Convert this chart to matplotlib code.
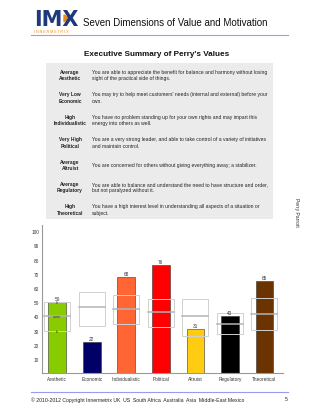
import matplotlib
matplotlib.use("Agg")
import matplotlib.pyplot as plt
from matplotlib.patches import Rectangle, Polygon
from matplotlib.lines import Line2D
import numpy as np

plt.rcParams['font.family'] = ['Liberation Sans', 'DejaVu Sans']

# chart data
categories = ["Aesthetic", "Economic", "Individualistic", "Political",
              "Altruist", "Regulatory", "Theoretical"]
scores = [50, 22, 68, 76, 31, 40, 65]
bar_colors = ["#88cc00", "#000066", "#ff6633", "#ff0000",
              "#ffcc11", "#000000", "#6b3300"]
norm_hi = [50, 57, 55, 52.5, 52.5, 42.5, 53]
norm_mid = [40, 46.5, 45, 43, 40, 34.5, 42]
norm_lo = [30, 33.5, 35, 32.5, 26.5, 28, 30.5]
yticks = [10, 20, 30, 40, 50, 60, 70, 80, 90, 100]

# summary table
levels = ["Average\nAesthetic", "Very Low\nEconomic", "High\nIndividualistic",
          "Very High\nPolitical", "Average\nAltruist", "Average\nRegulatory",
          "High\nTheoretical"]
descriptions = [
    "You are able to appreciate the benefit for balance and harmony without losing\nsight of the practical side of things.",
    "You may try to help meet customers' needs (internal and external) before your\nown.",
    "You have no problem standing up for your own rights and may impart this\nenergy into others as well.",
    "You are a very strong leader, and able to take control of a variety of initiatives\nand maintain control.",
    "You are concerned for others without giving everything away; a stabilizer.",
    "You are able to balance and understand the need to have structure and order,\nbut not paralyzed without it.",
    "You have a high interest level in understanding all aspects of a situation or\nsubject.",
]

W, H = 320, 414
fig = plt.figure(figsize=(W / 100, H / 100), dpi=100)


def fx(x):
    return x / W


def fy(y):
    return 1 - y / H


# header: logo, title, rule
fig.text(fx(34), fy(25.8), "IMX", fontsize=15, fontweight='bold', color='#1f3a7a',
         family='DejaVu Sans', va='baseline', ha='left')
fig.add_artist(Polygon([[fx(64), fy(15.8)], [fx(64), fy(22.8)], [fx(69), fy(19.3)]],
                       closed=True, color='#e8891c', transform=fig.transFigure))
fig.text(fx(34.5), fy(34.3), "I N N E R M E T R I X", fontsize=2.6, color='#e8891c',
         va='bottom', ha='left')
fig.text(fx(83), fy(23), "Seven Dimensions of Value and Motivation", fontsize=7.0,
         color='#111111', va='center', ha='left')
fig.add_artist(Line2D([fx(31), fx(288)], [fy(36), fy(36)], color='#9a9af0', lw=0.8,
                      transform=fig.transFigure))

fig.text(fx(157), fy(55), "Executive Summary of Perry's Values", fontsize=5.9,
         fontweight='bold', color='#111111', ha='center', va='center')

# grey summary box
fig.add_artist(Rectangle((fx(46), fy(220)), fx(273) - fx(46), fy(64) - fy(220),
                         facecolor='#ebebeb', edgecolor='none',
                         transform=fig.transFigure))
for i, (lv, desc) in enumerate(zip(levels, descriptions)):
    yc = 75.7 + 22.4 * i
    fig.text(fx(70), fy(yc), lv, fontsize=3.5, fontweight='bold', color='#222222',
             ha='center', va='center', linespacing=1.35)
    fig.text(fx(92), fy(yc), desc, fontsize=3.6, color='#222222',
             ha='left', va='center', linespacing=1.35)

fig.text(fx(297), fy(212), "Perry Parrott", fontsize=3.6, color='#333333',
         rotation=-90, ha='center', va='center')

# bar chart
ax = fig.add_axes([fx(41.7), fy(374.3), fx(283) - fx(41.7), fy(226) - fy(374.3)])
x = np.arange(len(categories))
ax.bar(x, scores, width=0.51, color=bar_colors, edgecolor='#333333', linewidth=0.4,
       zorder=2)
bw = 0.76
for xi, lo, mid, hi in zip(x, norm_lo, norm_mid, norm_hi):
    ax.add_patch(Rectangle((xi - bw / 2, lo), bw, hi - lo, fill=False,
                           edgecolor='#d0d0d0', linewidth=0.7, zorder=3))
    ax.plot([xi - bw / 2, xi + bw / 2], [mid, mid], color='#b0b4ba', lw=1.1, zorder=3)
for xi, s in zip(x, scores):
    ax.text(xi, s + 0.8, str(s), fontsize=3.4, color='#333333', ha='center',
            va='bottom', zorder=4)

# hi / norm / lo markers on the first bar
for val, name in zip([norm_hi[0], norm_mid[0], norm_lo[0]], ["hi", "norm", "lo"]):
    ax.text(x[0], val, name, fontsize=2.6, color='#333333', ha='center',
            va='center', zorder=4)

ax.set_xlim(-0.45, 6.54)
ax.set_ylim(0, 104.4)
ax.set_yticks(yticks)
ax.set_yticklabels([str(t) for t in yticks])
ax.set_xticks(x)
ax.set_xticklabels(categories)
ax.tick_params(axis='both', length=0, labelsize=3.4, labelcolor='#333333')
ax.tick_params(axis='y', pad=2)
ax.tick_params(axis='x', pad=2)
for side in ['top', 'right']:
    ax.spines[side].set_visible(False)
for side in ['left', 'bottom']:
    ax.spines[side].set_color('#999999')
    ax.spines[side].set_linewidth(0.8)

# footer
fig.add_artist(Line2D([fx(31), fx(288)], [fy(392.7), fy(392.7)], color='#9a9af0',
                      lw=0.8, transform=fig.transFigure))
fig.text(fx(31), fy(400), "\u00a9 2010-2012 Copyright Innermetrix UK  US  South Africa  "
         "Australia  Asia  Middle-East Mexico", fontsize=3.7, color='#222222',
         ha='left', va='center')
fig.text(fx(288), fy(400), "5", fontsize=3.7, color='#222222', ha='right', va='center')

fig.savefig("out.png", dpi=100)
